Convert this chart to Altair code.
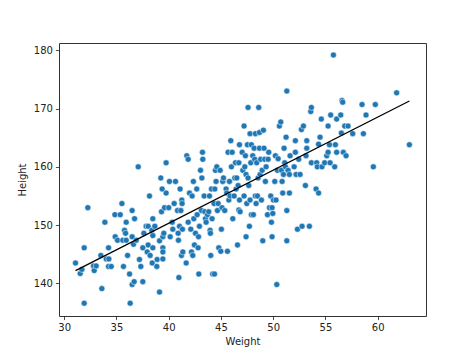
import altair as alt
import pandas as pd

weight = [31.08, 31.53, 31.69, 31.91, 31.91, 32.26, 32.8, 32.87, 33.06, 33.5, 33.6, 33.89, 34.02, 34.24, 34.24,
          34.27, 34.5, 34.85, 34.88, 35.1, 35.36, 35.52, 35.61, 35.67, 35.77, 35.87, 35.93, 35.93, 36.06, 36.25,
          36.31, 36.5, 36.5, 36.5, 36.63, 36.69, 36.73, 36.89, 37.08, 37.2, 37.33, 37.52, 37.52, 37.62, 37.84,
          37.94, 38.03, 38.16, 38.03, 38.22, 38.38, 38.42, 38.48, 38.48, 38.48, 38.67, 38.86, 38.89, 39.12, 39.12,
          39.24, 39.31, 39.37, 39.44, 39.44, 39.44, 39.44, 39.53, 39.6, 39.75, 39.75, 40.0, 40.07, 40.14, 40.33,
          40.39, 40.52, 40.65, 40.84, 40.9, 40.93, 40.97, 41.03, 41.09, 41.16, 41.22, 41.25, 41.28, 41.31, 41.35,
          41.67, 41.73, 41.86, 41.86, 41.99, 42.11, 42.18, 42.24, 42.3, 42.36, 42.4, 42.46, 42.56, 42.68, 42.72,
          42.81, 42.85, 42.88, 42.94, 43.04, 43.13, 43.17, 43.23, 43.26, 43.39, 43.45, 43.52, 43.58, 43.71, 43.83,
          43.9, 43.96, 43.99, 44.02, 44.09, 44.15, 44.21, 44.34, 44.38, 44.41, 44.47, 44.53, 44.6, 44.66, 44.73,
          44.79, 44.92, 44.98, 45.04, 45.1, 45.17, 45.24, 45.36, 45.49, 45.55, 45.62, 45.68, 45.75, 45.81, 45.87,
          45.94, 46.0, 46.07, 46.13, 46.26, 46.32, 46.39, 46.45, 46.51, 46.58, 46.64, 46.71, 46.71, 46.77, 46.77,
          46.83, 47.03, 47.09, 47.21, 47.21, 47.28, 47.34, 47.4, 47.4, 47.47, 47.53, 47.59, 47.59, 47.66, 47.72,
          47.78, 47.78, 47.85, 47.91, 47.91, 48.04, 48.1, 48.17, 48.23, 48.29, 48.29, 48.36, 48.42, 48.49, 48.55,
          48.61, 48.68, 48.68, 48.74, 48.8, 48.87, 48.94, 49.0, 49.06, 49.12, 49.19, 49.25, 49.32, 49.45, 49.51,
          49.57, 49.64, 49.76, 49.83, 49.89, 49.89, 49.96, 50.02, 50.15, 50.21, 50.27, 50.34, 50.4, 50.47, 50.59,
          50.72, 50.79, 50.85, 50.91, 50.98, 51.04, 51.1, 51.17, 51.23, 51.3, 51.3, 51.3, 51.42, 51.55, 51.55,
          51.61, 52.0, 52.12, 52.12, 52.19, 52.32, 52.44, 52.57, 52.7, 52.76, 52.89, 53.08, 53.14, 53.21, 53.21,
          53.46, 53.59, 53.65, 53.65, 54.1, 54.16, 54.22, 54.34, 54.34, 54.48, 54.6, 54.67, 54.92, 55.12, 55.25,
          55.25, 55.38, 55.44, 55.5, 55.76, 55.88, 55.95, 56.07, 56.07, 56.46, 56.52, 56.59, 56.65, 56.71, 56.84,
          56.97, 57.16, 57.61, 58.5, 58.63, 58.88, 59.58, 59.77, 61.81, 63.03]

height = [143.5, 141.7, 142.4, 146.1, 136.6, 153.0, 143.0, 142.2, 143.0, 144.8, 139.1, 150.5, 144.2, 146.1, 142.9,
          144.2, 142.9, 151.8, 148.0, 147.4, 151.8, 153.7, 147.4, 142.9, 149.1, 148.6, 150.5, 147.4, 144.8, 141.6,
          136.6, 152.5, 148.0, 139.8, 146.7, 140.3, 151.1, 147.4, 160.0, 144.1, 142.9, 146.1, 140.3, 148.6, 149.8,
          145.4, 146.6, 155.0, 149.8, 144.8, 149.1, 143.5, 151.1, 148.2, 146.1, 149.8, 142.9, 144.1, 138.5, 147.3,
          158.1, 152.3, 156.2, 146.1, 145.4, 144.2, 148.0, 148.6, 153.0, 160.7, 155.5, 153.0, 157.5, 148.0, 150.5,
          149.3, 153.7, 157.5, 152.5, 148.6, 147.4, 141.0, 149.8, 156.2, 152.5, 144.8, 154.3, 153.7, 149.3, 145.4,
          143.5, 161.9, 161.3, 150.5, 155.5, 149.3, 145.4, 155.0, 144.8, 157.5, 151.1, 146.6, 148.6, 156.2, 151.8,
          146.1, 148.0, 141.6, 149.8, 159.4, 152.5, 158.1, 162.5, 161.3, 155.0, 152.3, 151.1, 150.5, 151.8, 152.3,
          155.0, 149.1, 148.6, 144.8, 156.2, 151.1, 141.6, 153.7, 141.6, 156.2, 159.4, 157.5, 160.0, 152.5, 153.7,
          146.1, 159.4, 145.5, 149.3, 153.0, 157.5, 158.1, 152.5, 156.2, 155.5, 145.5, 162.5, 154.3, 157.5, 155.0,
          164.5, 160.0, 162.5, 151.1, 155.0, 158.1, 160.7, 156.2, 158.1, 146.6, 156.8, 160.7, 152.6, 163.8, 154.3,
          152.3, 162.5, 159.4, 167.0, 155.0, 160.0, 161.9, 158.7, 148.0, 153.7, 163.8, 170.2, 158.1, 156.8, 149.8,
          165.7, 154.3, 160.7, 163.8, 151.8, 161.9, 151.8, 163.2, 161.3, 165.7, 155.0, 153.7, 160.7, 155.0, 158.1,
          170.2, 163.2, 165.9, 158.7, 161.3, 154.3, 159.4, 147.3, 166.3, 163.2, 161.3, 157.5, 160.0, 151.8, 161.3,
          162.5, 153.0, 155.0, 150.5, 148.0, 153.0, 152.0, 154.3, 157.5, 161.9, 154.3, 139.8, 159.4, 161.4, 167.0,
          167.7, 159.4, 157.5, 155.5, 158.7, 163.2, 160.7, 160.0, 165.1, 173.0, 152.5, 147.3, 159.4, 155.5, 158.7,
          161.9, 160.0, 162.5, 164.5, 158.7, 149.3, 161.3, 158.7, 166.4, 149.8, 167.0, 156.8, 161.9, 163.2, 164.5,
          149.8, 169.5, 170.2, 160.7, 156.2, 160.7, 160.0, 155.5, 163.9, 165.1, 168.2, 160.0, 160.7, 161.9, 167.0,
          162.5, 163.8, 160.7, 168.9, 179.2, 160.0, 163.8, 162.5, 168.2, 168.9, 165.8, 171.4, 171.1, 162.5, 167.0,
          161.9, 167.0, 165.7, 170.7, 165.7, 168.9, 160.0, 170.7, 172.7, 163.8]

# fitted line end points
line_weight = [31.08, 63.03]
line_height = [142.2, 171.3]

pts = pd.DataFrame({"Weight": weight, "Height": height})
ln = pd.DataFrame({"Weight": line_weight, "Height": line_height})

xscale = alt.Scale(domain=[29.5, 64.62], nice=False, zero=False)
yscale = alt.Scale(domain=[134.4, 181.26], nice=False, zero=False)

xaxis = alt.Axis(values=[30, 35, 40, 45, 50, 55, 60], title="Weight", grid=False)
yaxis = alt.Axis(values=[140, 150, 160, 170, 180], title="Height", grid=False)

points = alt.Chart(pts).mark_circle(
    size=36, color="#1f77b4", opacity=1, stroke="white", strokeWidth=0.5
).encode(
    x=alt.X("Weight:Q", scale=xscale, axis=xaxis),
    y=alt.Y("Height:Q", scale=yscale, axis=yaxis),
)

line = alt.Chart(ln).mark_line(color="black", strokeWidth=1.3).encode(
    x=alt.X("Weight:Q", scale=xscale),
    y=alt.Y("Height:Q", scale=yscale),
)

chart = alt.layer(points, line).properties(
    width=367, height=273,
    autosize=alt.AutoSizeParams(type="none"),
    padding={"left": 51, "top": 35, "right": 38, "bottom": 34},
    background="white",
).configure_view(
    stroke="#333333", strokeWidth=1
).configure_axis(
    domain=False, tickColor="#222222", tickSize=3.6, tickWidth=0.8,
    labelFont="DejaVu Sans", labelFontSize=10, labelColor="#222222", labelPadding=3,
    titleFont="DejaVu Sans", titleFontSize=10, titleFontWeight="normal", titleColor="#222222",
).configure_axisX(titlePadding=4).configure_axisY(titlePadding=6)

chart.save("out.html", embed_options={"renderer": "svg", "actions": False})
